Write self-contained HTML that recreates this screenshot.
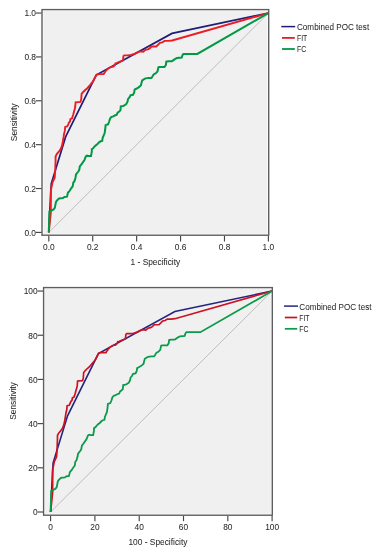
<!DOCTYPE html>
<html><head><meta charset="utf-8"><style>
html,body{margin:0;padding:0;background:#fff;}
body{width:375px;height:550px;overflow:hidden;}
svg{display:block;}
.t{font-family:"Liberation Sans", "DejaVu Sans", sans-serif;font-size:9.5px;fill:#2a2a2a;stroke:#2a2a2a;stroke-width:0.04;}
</style></head><body>
<svg width="375" height="550" viewBox="0 0 375 550">
<rect x="42" y="9.6" width="226.70" height="225.60" fill="#ffffff"/>
<rect x="43.40" y="11.00" width="223.90" height="222.80" fill="#f0f0f0"/>
<rect x="42" y="9.6" width="226.70" height="225.60" fill="none" stroke="#5e5e5e" stroke-width="1.4"/>
<line x1="48.8" y1="232.4" x2="268.40" y2="13.05" stroke="#a8a8a8" stroke-width="0.7"/>
<polyline points="48.80,232.40 50.60,195.04 51.30,183.56 65.60,136.91 96.20,75.08 172.00,33.43 268.40,13.05" fill="none" stroke="#1e1e7a" stroke-width="1.7" stroke-linejoin="miter" stroke-miterlimit="3" stroke-linecap="butt"/>
<polyline points="48.80,232.40 50.80,213.02 50.90,190.05 52.50,182.46 54.70,177.66 55.20,170.77 55.60,160.08 55.60,156.49 56.80,154.09 58.80,151.69 60.80,148.90 62.00,145.70 62.80,141.70 63.60,136.91 64.00,134.11 64.80,130.92 65.20,126.92 67.20,126.52 68.40,124.12 68.80,122.72 70.00,121.53 70.40,119.13 72.00,118.33 73.20,114.73 74.00,111.54 74.80,109.14 75.20,106.74 75.60,102.35 80.40,101.95 81.20,99.55 81.60,93.96 83.20,91.96 85.20,89.96 87.10,88.46 89.80,85.27 93.00,81.47 95.70,76.18 96.70,74.58 99.40,74.08 103.70,74.08 104.70,72.48 106.30,70.28 108.50,68.19 110.60,67.09 113.30,66.59 114.90,64.99 115.40,63.39 117.00,62.89 120.60,61.39 123.00,60.60 123.40,56.20 124.20,55.40 127.80,55.40 131.00,55.00 134.60,53.80 137.00,52.60 139.80,51.41 143.30,51.81 145.30,49.91 147.80,49.31 149.70,48.41 151.50,46.51 156.20,46.51 158.10,44.71 159.90,42.82 162.30,42.32 164.60,40.92 168.30,40.92 172.10,40.52 268.40,13.05" fill="none" stroke="#ec1c24" stroke-width="1.9" stroke-linejoin="miter" stroke-miterlimit="3" stroke-linecap="butt"/>
<polyline points="48.80,232.40 49.40,211.42 52.00,210.23 53.60,209.43 54.80,207.83 55.60,203.83 56.00,201.83 56.80,200.64 58.00,199.44 59.00,198.44 63.00,198.04 64.40,197.04 67.00,196.64 68.00,192.55 69.60,190.95 71.20,188.35 72.80,186.15 73.30,182.46 74.40,181.36 75.50,177.66 76.00,174.47 78.10,171.77 79.20,170.17 79.80,166.48 81.40,164.48 83.00,162.08 84.60,159.68 85.80,156.49 87.00,155.69 88.60,156.09 91.00,156.09 91.80,151.69 91.80,149.29 93.40,148.10 94.60,146.50 95.80,145.30 97.00,144.50 98.20,143.30 99.40,142.10 100.60,141.30 102.20,140.90 102.60,138.11 103.40,136.11 104.60,133.31 105.20,129.52 105.60,125.12 108.00,124.32 109.20,121.53 110.00,118.73 111.20,117.13 113.20,116.33 114.80,115.53 116.80,114.73 117.60,112.74 119.20,111.54 120.40,110.34 120.80,106.34 123.20,105.94 124.80,105.15 126.40,103.95 127.60,101.55 128.00,99.15 129.60,97.15 130.60,95.16 133.00,94.76 134.20,92.36 134.60,89.56 136.20,88.76 138.20,87.57 139.80,86.37 141.00,85.17 141.40,83.17 142.20,80.37 143.40,79.57 145.40,78.38 148.60,77.98 151.40,77.98 152.60,76.38 153.00,75.18 154.20,73.98 155.60,73.38 157.50,71.48 158.40,67.29 159.30,66.89 164.50,66.89 165.90,64.99 166.30,61.69 168.20,61.30 171.90,61.30 173.80,59.90 175.20,58.90 177.10,58.00 181.70,57.50 182.70,54.70 183.60,53.90 197.30,53.90 268.40,13.05" fill="none" stroke="#009944" stroke-width="2.0" stroke-linejoin="miter" stroke-miterlimit="3" stroke-linecap="butt"/>
<line x1="35.8" y1="232.40" x2="41.5" y2="232.40" stroke="#454545" stroke-width="1.15"/>
<text transform="translate(36.00,235.80) scale(0.88,1)" text-anchor="end" class="t">0.0</text>
<line x1="35.8" y1="188.53" x2="41.5" y2="188.53" stroke="#454545" stroke-width="1.15"/>
<text transform="translate(36.00,191.93) scale(0.88,1)" text-anchor="end" class="t">0.2</text>
<line x1="35.8" y1="144.66" x2="41.5" y2="144.66" stroke="#454545" stroke-width="1.15"/>
<text transform="translate(36.00,148.06) scale(0.88,1)" text-anchor="end" class="t">0.4</text>
<line x1="35.8" y1="100.79" x2="41.5" y2="100.79" stroke="#454545" stroke-width="1.15"/>
<text transform="translate(36.00,104.19) scale(0.88,1)" text-anchor="end" class="t">0.6</text>
<line x1="35.8" y1="56.92" x2="41.5" y2="56.92" stroke="#454545" stroke-width="1.15"/>
<text transform="translate(36.00,60.32) scale(0.88,1)" text-anchor="end" class="t">0.8</text>
<line x1="35.8" y1="13.05" x2="41.5" y2="13.05" stroke="#454545" stroke-width="1.15"/>
<text transform="translate(36.00,16.45) scale(0.88,1)" text-anchor="end" class="t">1.0</text>
<line x1="48.80" y1="236" x2="48.80" y2="241.5" stroke="#454545" stroke-width="1.15"/>
<text transform="translate(48.80,250.30) scale(0.88,1)" text-anchor="middle" class="t">0.0</text>
<line x1="92.72" y1="236" x2="92.72" y2="241.5" stroke="#454545" stroke-width="1.15"/>
<text transform="translate(92.72,250.30) scale(0.88,1)" text-anchor="middle" class="t">0.2</text>
<line x1="136.64" y1="236" x2="136.64" y2="241.5" stroke="#454545" stroke-width="1.15"/>
<text transform="translate(136.64,250.30) scale(0.88,1)" text-anchor="middle" class="t">0.4</text>
<line x1="180.56" y1="236" x2="180.56" y2="241.5" stroke="#454545" stroke-width="1.15"/>
<text transform="translate(180.56,250.30) scale(0.88,1)" text-anchor="middle" class="t">0.6</text>
<line x1="224.48" y1="236" x2="224.48" y2="241.5" stroke="#454545" stroke-width="1.15"/>
<text transform="translate(224.48,250.30) scale(0.88,1)" text-anchor="middle" class="t">0.8</text>
<line x1="268.40" y1="236" x2="268.40" y2="241.5" stroke="#454545" stroke-width="1.15"/>
<text transform="translate(268.40,250.30) scale(0.88,1)" text-anchor="middle" class="t">1.0</text>
<text transform="translate(155.40,264.50) scale(0.88,1)" text-anchor="middle" class="t">1 - Specificity</text>
<text transform="translate(17.00,122.40) rotate(-90) scale(0.88,1)" text-anchor="middle" class="t">Sensitivity</text>
<line x1="281.3" y1="26.6" x2="295.2" y2="26.6" stroke="#1e1e7a" stroke-width="1.5"/>
<text transform="translate(297.00,30.10) scale(0.855,1)" text-anchor="start" class="t">Combined POC test</text>
<line x1="282" y1="37.9" x2="294.8" y2="37.9" stroke="#ec1c24" stroke-width="1.8"/>
<text transform="translate(297.00,41.40) scale(0.72,1)" text-anchor="start" class="t">FIT</text>
<line x1="282" y1="49" x2="294.8" y2="49" stroke="#009944" stroke-width="1.8"/>
<text transform="translate(297.00,51.70) scale(0.73,1)" text-anchor="start" class="t">FC</text>
<rect x="43.6" y="287.6" width="228.70" height="227.60" fill="#ffffff"/>
<rect x="45.00" y="289.00" width="225.90" height="224.80" fill="#f0f0f0"/>
<rect x="43.6" y="287.6" width="228.70" height="227.60" fill="none" stroke="#5e5e5e" stroke-width="1.4"/>
<line x1="50.6" y1="512" x2="272.10" y2="291.05" stroke="#a8a8a8" stroke-width="0.7"/>
<polyline points="50.60,512.00 52.42,474.37 53.12,462.80 67.55,415.81 98.41,353.53 174.87,311.58 272.10,291.05" fill="none" stroke="#25257f" stroke-width="1.6" stroke-linejoin="miter" stroke-miterlimit="3" stroke-linecap="butt"/>
<polyline points="50.60,512.00 52.62,492.48 52.72,469.34 54.33,461.69 56.55,456.86 57.06,449.92 57.46,439.15 57.46,435.53 58.67,433.12 60.69,430.70 62.70,427.89 63.91,424.67 64.72,420.64 65.53,415.81 65.93,413.00 66.74,409.78 67.14,405.75 69.16,405.35 70.37,402.93 70.77,401.52 71.98,400.32 72.39,397.90 74.00,397.10 75.21,393.48 76.02,390.26 76.82,387.84 77.23,385.43 77.63,381.00 82.47,380.60 83.28,378.18 83.68,372.55 85.30,370.54 87.31,368.52 89.23,367.01 91.95,363.79 95.18,359.97 97.91,354.64 98.91,353.03 101.64,352.53 105.98,352.53 106.98,350.92 108.60,348.70 110.82,346.59 112.93,345.48 115.66,344.98 117.27,343.37 117.78,341.76 119.39,341.26 123.02,339.75 125.44,338.94 125.85,334.52 126.65,333.71 130.28,333.71 133.51,333.31 137.14,332.10 139.56,330.89 142.39,329.69 145.92,330.09 147.93,328.18 150.46,327.57 152.37,326.67 154.19,324.76 158.93,324.76 160.85,322.94 162.66,321.03 165.08,320.53 167.40,319.12 171.13,319.12 174.97,318.72 272.10,291.05" fill="none" stroke="#cc1122" stroke-width="1.7" stroke-linejoin="miter" stroke-miterlimit="3" stroke-linecap="butt"/>
<polyline points="50.60,512.00 51.21,490.87 53.83,489.66 55.44,488.86 56.65,487.25 57.46,483.22 57.86,481.21 58.67,480.00 59.88,478.80 60.89,477.79 64.92,477.39 66.33,476.38 68.96,475.98 69.97,471.85 71.58,470.24 73.19,467.63 74.81,465.42 75.31,461.69 76.42,460.59 77.53,456.86 78.04,453.64 80.15,450.93 81.26,449.32 81.87,445.59 83.48,443.58 85.10,441.17 86.71,438.75 87.92,435.53 89.13,434.73 90.74,435.13 93.17,435.13 93.97,430.70 93.97,428.29 95.59,427.08 96.80,425.47 98.01,424.26 99.22,423.46 100.43,422.25 101.64,421.04 102.85,420.24 104.46,419.84 104.87,417.02 105.67,415.01 106.88,412.19 107.49,408.37 107.89,403.94 110.31,403.13 111.52,400.32 112.33,397.50 113.54,395.89 115.56,395.09 117.17,394.28 119.19,393.48 120.00,391.46 121.61,390.26 122.82,389.05 123.22,385.02 125.64,384.62 127.26,383.82 128.87,382.61 130.08,380.19 130.49,377.78 132.10,375.77 133.11,373.76 135.53,373.35 136.74,370.94 137.14,368.12 138.76,367.32 140.77,366.11 142.39,364.90 143.60,363.69 144.00,361.68 144.81,358.86 146.02,358.06 148.04,356.85 151.26,356.45 154.09,356.45 155.30,354.84 155.70,353.63 156.91,352.42 158.32,351.82 160.24,349.91 161.15,345.68 162.06,345.28 167.30,345.28 168.71,343.37 169.12,340.05 171.03,339.65 174.77,339.65 176.68,338.24 178.09,337.23 180.01,336.33 184.65,335.82 185.66,333.01 186.57,332.20 200.38,332.20 272.10,291.05" fill="none" stroke="#0a9a4a" stroke-width="1.8" stroke-linejoin="miter" stroke-miterlimit="3" stroke-linecap="butt"/>
<line x1="37.6" y1="512.00" x2="43" y2="512.00" stroke="#454545" stroke-width="1.15"/>
<text transform="translate(37.60,515.40) scale(0.88,1)" text-anchor="end" class="t">0</text>
<line x1="37.6" y1="467.81" x2="43" y2="467.81" stroke="#454545" stroke-width="1.15"/>
<text transform="translate(37.60,471.21) scale(0.88,1)" text-anchor="end" class="t">20</text>
<line x1="37.6" y1="423.62" x2="43" y2="423.62" stroke="#454545" stroke-width="1.15"/>
<text transform="translate(37.60,427.02) scale(0.88,1)" text-anchor="end" class="t">40</text>
<line x1="37.6" y1="379.43" x2="43" y2="379.43" stroke="#454545" stroke-width="1.15"/>
<text transform="translate(37.60,382.83) scale(0.88,1)" text-anchor="end" class="t">60</text>
<line x1="37.6" y1="335.24" x2="43" y2="335.24" stroke="#454545" stroke-width="1.15"/>
<text transform="translate(37.60,338.64) scale(0.88,1)" text-anchor="end" class="t">80</text>
<line x1="37.6" y1="291.05" x2="43" y2="291.05" stroke="#454545" stroke-width="1.15"/>
<text transform="translate(37.60,294.45) scale(0.88,1)" text-anchor="end" class="t">100</text>
<line x1="50.60" y1="516" x2="50.60" y2="521.2" stroke="#454545" stroke-width="1.15"/>
<text transform="translate(50.60,529.50) scale(0.88,1)" text-anchor="middle" class="t">0</text>
<line x1="94.90" y1="516" x2="94.90" y2="521.2" stroke="#454545" stroke-width="1.15"/>
<text transform="translate(94.90,529.50) scale(0.88,1)" text-anchor="middle" class="t">20</text>
<line x1="139.20" y1="516" x2="139.20" y2="521.2" stroke="#454545" stroke-width="1.15"/>
<text transform="translate(139.20,529.50) scale(0.88,1)" text-anchor="middle" class="t">40</text>
<line x1="183.50" y1="516" x2="183.50" y2="521.2" stroke="#454545" stroke-width="1.15"/>
<text transform="translate(183.50,529.50) scale(0.88,1)" text-anchor="middle" class="t">60</text>
<line x1="227.80" y1="516" x2="227.80" y2="521.2" stroke="#454545" stroke-width="1.15"/>
<text transform="translate(227.80,529.50) scale(0.88,1)" text-anchor="middle" class="t">80</text>
<line x1="272.10" y1="516" x2="272.10" y2="521.2" stroke="#454545" stroke-width="1.15"/>
<text transform="translate(272.10,529.50) scale(0.88,1)" text-anchor="middle" class="t">100</text>
<text transform="translate(157.95,544.90) scale(0.88,1)" text-anchor="middle" class="t">100 - Specificity</text>
<text transform="translate(15.80,401.00) rotate(-90) scale(0.88,1)" text-anchor="middle" class="t">Sensitivity</text>
<line x1="284" y1="306.1" x2="298" y2="306.1" stroke="#25257f" stroke-width="1.5"/>
<text transform="translate(299.30,309.50) scale(0.855,1)" text-anchor="start" class="t">Combined POC test</text>
<line x1="284.8" y1="317.5" x2="297.2" y2="317.5" stroke="#cc1122" stroke-width="1.7"/>
<text transform="translate(299.30,320.90) scale(0.72,1)" text-anchor="start" class="t">FIT</text>
<line x1="284.8" y1="328.8" x2="297.2" y2="328.8" stroke="#0a9a4a" stroke-width="1.7"/>
<text transform="translate(299.30,332.30) scale(0.73,1)" text-anchor="start" class="t">FC</text>
</svg>
</body></html>
